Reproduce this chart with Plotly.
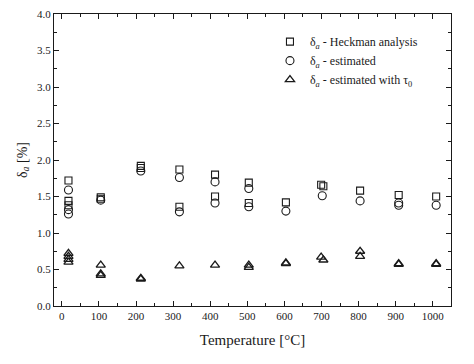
import plotly.graph_objects as go

# Data
heck_T = [18, 18, 18, 105, 105, 213, 213, 317, 317, 413, 413, 504, 504, 604, 699, 705, 804, 908, 1009]
heck_v = [1.72, 1.44, 1.38, 1.49, 1.47, 1.92, 1.89, 1.87, 1.36, 1.80, 1.50, 1.69, 1.41, 1.42, 1.66, 1.64, 1.58, 1.52, 1.50]

est_T = [18, 18, 18, 105, 213, 317, 317, 413, 413, 504, 504, 604, 702, 804, 908, 908, 1009]
est_v = [1.59, 1.32, 1.26, 1.45, 1.85, 1.76, 1.29, 1.70, 1.41, 1.61, 1.36, 1.30, 1.51, 1.44, 1.41, 1.38, 1.38]

tau_T = [18, 18, 18, 18, 105, 105, 105, 213, 213, 317, 413, 504, 504, 604, 604, 699, 705, 804, 804, 908, 908, 1009, 1009]
tau_v = [0.72, 0.68, 0.64, 0.60, 0.56, 0.44, 0.42, 0.38, 0.37, 0.55, 0.56, 0.56, 0.53, 0.59, 0.58, 0.67, 0.63, 0.75, 0.68, 0.58, 0.57, 0.58, 0.57]

x_ticks = [0, 100, 200, 300, 400, 500, 600, 700, 800, 900, 1000]
y_ticks = [0.0, 0.5, 1.0, 1.5, 2.0, 2.5, 3.0, 3.5, 4.0]

FONT = "Liberation Serif"
INK = "#1a1a1a"

fig = go.Figure()
fig.add_trace(go.Scatter(x=heck_T, y=heck_v, mode="markers",
                         name="δ<sub><i>a</i></sub> - Heckman analysis",
                         marker=dict(symbol="square-open", size=7, color=INK, line=dict(width=1.1))))
fig.add_trace(go.Scatter(x=est_T, y=est_v, mode="markers",
                         name="δ<sub><i>a</i></sub> - estimated",
                         marker=dict(symbol="circle-open", size=8, color=INK, line=dict(width=1.1))))
fig.add_trace(go.Scatter(x=tau_T, y=tau_v, mode="markers",
                         name="δ<sub><i>a</i></sub> - estimated with τ<sub>0</sub>",
                         marker=dict(symbol="triangle-up-open", size=8, color=INK, line=dict(width=1.3))))

axis_common = dict(showgrid=False, zeroline=False, showline=True, linecolor=INK, linewidth=1.2,
                   mirror="ticks", ticks="inside", tickcolor=INK, ticklen=5, tickwidth=1.1,
                   automargin=False, ticklabeloverflow="allow",
                   tickfont=dict(family=FONT, size=11, color=INK))

fig.update_xaxes(range=[-21, 1049], tickvals=x_ticks,
                 minor=dict(ticks="inside", dtick=50, ticklen=3, tickcolor=INK, tickwidth=1),
                 title=dict(text="Temperature [°C]", font=dict(family=FONT, size=15, color=INK), standoff=13),
                 **axis_common)
fig.update_yaxes(range=[0, 4.0], tickvals=y_ticks, tickformat=".1f",
                 minor=dict(ticks="inside", dtick=0.25, ticklen=3, tickcolor=INK, tickwidth=1),
                 title=dict(text="δ<sub><i>a</i></sub> [%]", font=dict(family=FONT, size=14, color=INK), standoff=6),
                 **axis_common)

# page body has an 8px default margin, so offsets are compensated here
fig.update_layout(
    width=474, height=364,
    margin=dict(l=46, r=31, t=6, b=66),
    paper_bgcolor="white", plot_bgcolor="white",
    font=dict(family=FONT, color=INK),
    legend=dict(x=0.544, y=0.955, xanchor="left", yanchor="top",
                bgcolor="rgba(0,0,0,0)", font=dict(family=FONT, size=12, color=INK),
                tracegroupgap=0),
)

fig.write_html("out.html")
